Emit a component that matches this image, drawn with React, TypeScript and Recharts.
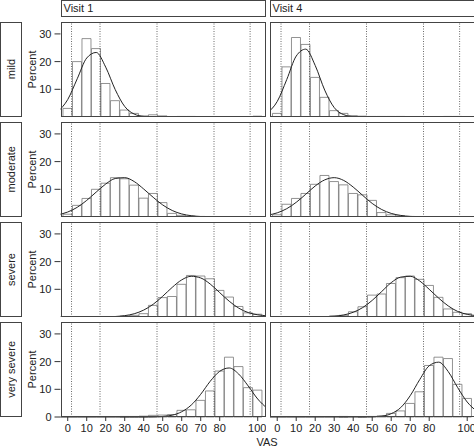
import React from "react";
import { ComposedChart, Bar, Line, XAxis, YAxis, ReferenceLine } from "recharts";

// panel labels
const visits = ["Visit 1", "Visit 4"];
const severities = ["mild", "moderate", "severe", "very severe"];

// histogram bins (5-point wide, centred on multiples of 5) and density sample points
const binMids = [0, 5, 10, 15, 20, 25, 30, 35, 40, 45, 50, 55, 60, 65, 70, 75, 80, 85, 90, 95, 100];
const curveX = [-5, 0, 5, 10, 15, 20, 25, 30, 35, 40, 45, 50, 55, 60, 65, 70, 75, 80, 85, 90, 95, 100, 105];
const xTicks = [0, 10, 20, 30, 40, 50, 60, 70, 80, 90, 100];
const yTicks = [0, 10, 20, 30];
const cutoffs = [2, 17, 47, 77, 96];

// percent per bin, Visit 1
const mildV1 = [3.1, 20.0, 28.3, 24.7, 12.1, 5.9, 2.5, 1.3, 0.4, 0.8, 0.4, 0.1, 0.2, 0.2, 0, 0, 0, 0, 0, 0, 0.3];
const moderateV1 = [1.0, 4.2, 6.7, 10.0, 12.2, 14.2, 13.8, 11.5, 6.8, 8.5, 5.2, 1.3, 0.6, 0.3, 0.2, 0, 0, 0, 0, 0, 0];
const severeV1 = [0, 0, 0, 0, 0, 0.1, 0.3, 0.6, 1.2, 4.2, 7.0, 7.4, 11.8, 15.0, 14.8, 13.8, 9.6, 7.2, 3.8, 1.5, 1.0];
const verySevereV1 = [0, 0, 0, 0, 0, 0, 0.2, 0.2, 0.3, 0.6, 0.7, 0.9, 2.4, 2.6, 6.0, 9.4, 16.6, 21.6, 18.2, 10.6, 9.7];

// percent per bin, Visit 4
const mildV4 = [1.3, 18.1, 28.7, 26.2, 14.3, 7.1, 2.3, 1.3, 0.5, 0.3, 0.2, 0.2, 0.2, 0.2, 0, 0, 0, 0, 0.2, 0.2, 0];
const moderateV4 = [0.8, 4.6, 6.7, 8.5, 11.8, 15.0, 12.8, 11.6, 8.5, 8.0, 6.0, 1.6, 0.8, 0.4, 0.2, 0.1, 0, 0, 0, 0, 0];
const severeV4 = [0, 0, 0, 0, 0, 0, 0.4, 0.6, 1.9, 3.7, 7.9, 8.3, 12.1, 14.2, 14.8, 13.6, 11.4, 7.1, 2.9, 1.7, 1.2];
const verySevereV4 = [0, 0, 0, 0, 0, 0, 0, 0.2, 0, 0.1, 0.2, 0.4, 1.3, 2.2, 4.9, 9.1, 18.6, 21.6, 21.1, 11.8, 6.7];

// fitted normal curves, read at curveX
const mildV1Curve = [2.05, 6.3, 13.8, 21.3, 23.3, 18.0, 9.9, 3.8, 1.05, 0.2, 0.03, 0, 0, 0, 0, 0, 0, 0, 0, 0, 0, 0, 0];
const moderateV1Curve = [0.83, 1.8, 3.5, 6.0, 9.0, 11.9, 13.9, 14.2, 12.8, 10.1, 7.1, 4.35, 2.35, 1.1, 0.47, 0.17, 0.06, 0.01, 0, 0, 0, 0, 0];
const severeV1Curve = [0, 0, 0, 0, 0, 0, 0.18, 0.49, 1.17, 2.5, 4.6, 7.5, 10.7, 13.4, 14.7, 14.1, 11.9, 8.8, 5.7, 3.2, 1.6, 0.8, 0.4];
const verySevereV1Curve = [0, 0, 0, 0, 0, 0, 0, 0, 0, 0, 0.05, 0.2, 0.65, 1.9, 4.3, 8.2, 12.9, 16.5, 17.7, 15.5, 11.2, 6.5, 3.1];
const mildV4Curve = [1.6, 5.6, 13.5, 22.0, 24.5, 18.6, 9.7, 3.4, 0.84, 0.14, 0.02, 0, 0, 0, 0, 0, 0, 0, 0, 0, 0, 0, 0];
const moderateV4Curve = [0.67, 1.5, 3.0, 5.3, 8.2, 11.2, 13.4, 14.2, 13.2, 10.8, 7.8, 4.9, 2.7, 1.3, 0.57, 0.21, 0.07, 0.02, 0, 0, 0, 0, 0];
const severeV4Curve = [0, 0, 0, 0, 0, 0, 0.09, 0.28, 0.73, 1.7, 3.4, 6.0, 9.2, 12.4, 14.4, 14.7, 13.0, 10.0, 6.8, 4.0, 2.0, 0.95, 0.5];
const verySevereV4Curve = [0, 0, 0, 0, 0, 0, 0, 0, 0, 0, 0, 0.07, 0.31, 1.2, 3.4, 7.7, 13.5, 18.5, 19.8, 16.4, 10.6, 5.4, 2.1];

const panels = [
  [[mildV1, mildV1Curve], [mildV4, mildV4Curve]],
  [[moderateV1, moderateV1Curve], [moderateV4, moderateV4Curve]],
  [[severeV1, severeV1Curve], [severeV4, severeV4Curve]],
  [[verySevereV1, verySevereV1Curve], [verySevereV4, verySevereV4Curve]],
];

// layout
const PANEL_W = 205;
const PANEL_H = 95;
const COL_X = [60.5, 269.5];
const ROW_Y0 = 21.7;
const ROW_STEP = 100;
const X_AXIS_H = 31.5;
const X_DOMAIN: [number, number] = [-3.8, 104.1];
const Y_DOMAIN: [number, number] = [0, 34.3];
const FONT = '"Liberation Sans", Arial, Helvetica, sans-serif';
const BORDER = "1px solid #444";

const buildRows = (bars: number[], curve: number[]) =>
  curveX.map((x, i) => {
    const b = binMids.indexOf(x);
    return { x, pct: b >= 0 ? bars[b] : null, dens: curve[i] };
  });

const Panel = ({ bars, curve, col, row }: { bars: number[]; curve: number[]; col: number; row: number }) => {
  const showY = col === 0;
  const showX = row === severities.length - 1;
  const axisW = showY ? COL_X[0] : 0;
  const left = COL_X[col] - axisW;
  const top = ROW_Y0 + row * ROW_STEP;
  return (
    <>
      <div style={{ position: "absolute", left, top }}>
        <ComposedChart
          width={PANEL_W + axisW}
          height={PANEL_H + (showX ? X_AXIS_H : 0)}
          data={buildRows(bars, curve)}
          margin={{ top: 0, right: 0, bottom: 0, left: 0 }}
          barCategoryGap={0}
          barGap={0}
        >
          <XAxis
            type="number"
            dataKey="x"
            domain={X_DOMAIN}
            allowDataOverflow
            ticks={xTicks}
            hide={!showX}
            height={X_AXIS_H}
            axisLine={false}
            tickSize={4}
            tickMargin={3}
            tickLine={{ stroke: "#333" }}
            tick={{ fontSize: 11, fill: "#222" }}
          />
          <YAxis
            type="number"
            domain={Y_DOMAIN}
            ticks={yTicks}
            hide={!showY}
            width={axisW}
            axisLine={false}
            tickSize={6}
            tickMargin={3}
            tickLine={{ stroke: "#333" }}
            tick={{ fontSize: 11, fill: "#222" }}
            label={{
              value: "Percent",
              angle: -90,
              position: "insideLeft",
              offset: 32,
              style: { textAnchor: "middle", fontSize: 11, fill: "#222" },
            }}
          />
          <Bar dataKey="pct" fill="#fff" stroke="#777" strokeWidth={0.8} isAnimationActive={false} />
          {cutoffs.map((c) => (
            <ReferenceLine key={c} x={c} stroke="#444" strokeWidth={0.8} strokeDasharray="1 1.5" />
          ))}
          <Line
            type="monotone"
            dataKey="dens"
            stroke="#222"
            strokeWidth={1}
            dot={false}
            isAnimationActive={false}
          />
        </ComposedChart>
      </div>
      <div
        style={{
          position: "absolute",
          left: COL_X[col],
          top,
          width: PANEL_W,
          height: PANEL_H,
          border: BORDER,
          boxSizing: "border-box",
          pointerEvents: "none",
        }}
      />
    </>
  );
};

export default function App() {
  return (
    <div
      style={{
        position: "absolute",
        left: 0,
        top: 0,
        width: 474,
        height: 448,
        overflow: "hidden",
        background: "#fff",
        fontFamily: FONT,
        fontSize: 11,
        color: "#222",
      }}
    >
      {visits.map((v, col) => (
        <div
          key={v}
          style={{
            position: "absolute",
            left: COL_X[col],
            top: 0,
            width: PANEL_W,
            height: 17,
            border: BORDER,
            boxSizing: "border-box",
            paddingLeft: 2,
            lineHeight: "15px",
          }}
        >
          {v}
        </div>
      ))}
      {severities.map((s, row) => (
        <div
          key={s}
          style={{
            position: "absolute",
            left: 0,
            top: ROW_Y0 + row * ROW_STEP,
            width: 21.5,
            height: PANEL_H,
            border: BORDER,
            boxSizing: "border-box",
            display: "flex",
            alignItems: "center",
            justifyContent: "center",
          }}
        >
          <span style={{ writingMode: "vertical-rl", transform: "rotate(180deg)", whiteSpace: "nowrap" }}>{s}</span>
        </div>
      ))}
      {panels.map((r, row) =>
        r.map(([bars, curve], col) => <Panel key={`${row}-${col}`} bars={bars} curve={curve} col={col} row={row} />)
      )}
      <div style={{ position: "absolute", left: 0, width: 534, top: 436, textAlign: "center" }}>VAS</div>
    </div>
  );
}
